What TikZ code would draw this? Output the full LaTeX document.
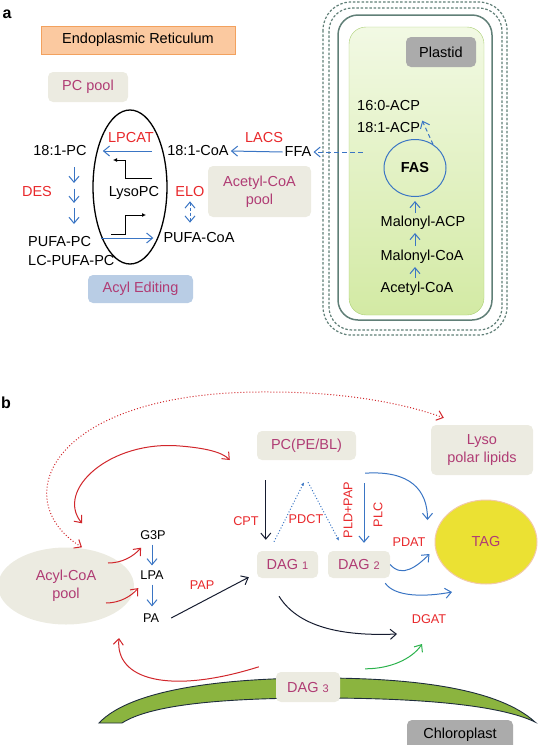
\documentclass[tikz,border=0pt]{standalone}
\usepackage{fontspec}
\setmainfont{Liberation Sans}
\usepackage{xcolor}
\definecolor{poolText}{HTML}{B03C74}
\definecolor{enzymeRed}{HTML}{E8282B}
\definecolor{flowBlue}{HTML}{3A75C4}
\definecolor{flowDark}{HTML}{161C30}
\definecolor{poolBg}{HTML}{ECEBE1}
\definecolor{erBg}{HTML}{FBC9A0}
\definecolor{erLine}{HTML}{F2A15E}
\definecolor{editBg}{HTML}{B9CDE5}
\definecolor{plastidLine}{HTML}{607F77}
\definecolor{stromaTop}{HTML}{F2F9E4}
\definecolor{stromaBot}{HTML}{D3EAA4}
\definecolor{stromaLine}{HTML}{A9CE72}
\definecolor{tagFill}{HTML}{EBE133}
\definecolor{tagLine}{HTML}{F2C9A8}
\definecolor{chloroFill}{HTML}{8BB43F}
\definecolor{chloroLine}{HTML}{1F2D3D}
\definecolor{labelGray}{HTML}{ABABAB}
\definecolor{curveRed}{HTML}{D1262B}
\definecolor{dagGreen}{HTML}{2BB24C}
\usepackage{tikz}
\usetikzlibrary{shapes,arrows.meta,positioning,calc}
\newcommand{\bigFont}{\fontsize{14.5}{18}\selectfont}
\newcommand{\smallFont}{\fontsize{12.7}{15}\selectfont}
\tikzset{%
  panelTag/.style={%
    font=\fontsize{16}{16}\selectfont\bfseries,
    inner sep=0
  },
  metaText/.style={%
    font=\bigFont,
    inner sep=2pt
  },
  smallMeta/.style={%
    font=\smallFont,
    inner sep=2pt
  },
  enzymeText/.style={%
    text=enzymeRed,
    font=\bigFont,
    inner sep=2pt
  },
  smallEnzyme/.style={%
    text=enzymeRed,
    font=\smallFont,
    inner sep=2pt
  },
  poolBox/.style={%
    rectangle,
    rounded corners=5pt,
    fill=poolBg,
    text=poolText,
    font=\bigFont,
    align=center,
    inner sep=0
  },
  grayBox/.style={%
    rectangle,
    rounded corners=5pt,
    fill=labelGray,
    font=\bigFont,
    inner sep=0
  },
  blueArrow/.style={%
    -{Straight Barb[length=6pt,width=10pt]},
    line width=1pt,
    color=flowBlue
  },
  darkArrow/.style={%
    -{Straight Barb[length=6pt,width=10pt]},
    line width=1pt,
    color=flowDark
  },
  redArrow/.style={%
    -{Straight Barb[length=6pt,width=10pt]},
    line width=1pt,
    color=curveRed
  },
  greenArrow/.style={%
    -{Straight Barb[length=6pt,width=10pt]},
    line width=1pt,
    color=dagGreen
  },
  dotArrow/.style={%
    -{Latex[length=3.5pt,width=3pt]},
    line width=1pt,
    dotted,
    color=flowBlue
  },
  stepArrow/.style={%
    -{Latex[length=4pt,width=4pt]},
    line width=0.9pt,
    color=black
  },
  membraneDash/.style={%
    draw=plastidLine,
    line width=1.2pt,
    dash pattern=on 2.5pt off 1.8pt
  }
}

\begin{document}
\begin{tikzpicture}[x=1pt,y=-1pt]
  \useasboundingbox (0,0) rectangle (538,745);

  % a: endoplasmic reticulum
  \node[panelTag] (tagA) at (7,14) {a};
  \node[rectangle, draw=erLine, fill=erBg, line width=1pt, font=\bigFont,
        minimum width=194pt, minimum height=28pt] (er) at (138,40) {Endoplasmic Reticulum};
  \node[poolBox, minimum width=80pt, minimum height=30pt] (pcPool) at (88,87) {PC pool};
  \node[draw, ellipse, line width=1.3pt, minimum width=74pt, minimum height=154pt] (editLoop) at (130,187) {};

  \node[metaText] (pc181) at (60,151) {18:1-PC};
  \node[enzymeText] (lpcat) at (131,138) {LPCAT};
  \node[metaText] (coa181) at (198,151) {18:1-CoA};
  \node[metaText] (lysoPC) at (134,193) {LysoPC};
  \node[metaText, anchor=west] (pufaPC) at (26,242) {PUFA-PC};
  \node[metaText, anchor=west] (lcPufaPC) at (26,261) {LC-PUFA-PC};
  \node[metaText] (pufaCoA) at (199,238) {PUFA-CoA};
  \node[enzymeText] (des) at (37,192) {DES};
  \node[enzymeText] (elo) at (190,192) {ELO};
  \node[poolBox, minimum width=103pt, minimum height=51pt] (acetylPool) at (259.5,191.5) {Acetyl-CoA\\pool};
  \node[poolBox, fill=editBg, minimum width=105pt, minimum height=28pt] (acylEdit) at (140.5,289) {Acyl Editing};
  \node[enzymeText] (lacs) at (264,138) {LACS};
  \node[metaText] (ffa) at (298,152) {FFA};

  % plastid
  \draw[membraneDash, rounded corners=28pt] (323,2) rectangle (507,335);
  \draw[membraneDash, rounded corners=23pt] (329,8) rectangle (502,330);
  \draw[plastidLine, line width=1.5pt, rounded corners=20pt] (338,15) rectangle (492,320);
  \draw[stromaLine, top color=stromaTop, bottom color=stromaBot, rounded corners=17pt] (349,27) rectangle (484,315);
  \node[grayBox, minimum width=70pt, minimum height=30pt] (plastid) at (441,52) {Plastid};
  \node[metaText, anchor=west] (acp160) at (355,106) {16:0-ACP};
  \node[metaText, anchor=west] (acp181) at (355,128) {18:1-ACP};
  \node[draw=flowBlue, line width=1pt, ellipse, minimum width=62pt, minimum height=57pt,
        font=\bigFont\bfseries] (fas) at (415,168) {FAS};
  \node[metaText] (malonylACP) at (423,223) {Malonyl-ACP};
  \node[metaText] (malonylCoA) at (422,257) {Malonyl-CoA};
  \node[metaText] (acetylCoA) at (417,289) {Acetyl-CoA};

  \draw[blueArrow, shorten <=2pt, shorten >=1pt] (acetylCoA.north -| fas) -- (malonylCoA.south -| fas);
  \draw[blueArrow, shorten <=2pt, shorten >=1pt] (malonylCoA.north -| fas) -- (malonylACP.south -| fas);
  \draw[blueArrow, shorten <=1pt, shorten >=4pt] (malonylACP.north -| fas) -- (fas.south);
  \draw[blueArrow, dash pattern=on 4pt off 3pt] (fas.53) -- (acp181.north east);
  \draw[blueArrow, dash pattern=on 5pt off 3pt] ($(ffa.east -| fas.west)+(-21,0)$) -- (ffa.east);
  \draw[blueArrow] (ffa.west) -- (coa181.east);

  % acyl editing cycle
  \draw[blueArrow, shorten <=13pt, shorten >=14pt] (coa181.west) -- (pc181.east);
  \draw[blueArrow, shorten <=8pt, shorten >=8pt] (pufaPC.east |- pufaCoA.west) -- (pufaCoA.west);
  \draw[stepArrow] ($(lysoPC)+(18,-15)$) -| ($(lysoPC)+(-9,-33)$) -- ++(-12,0);
  \draw[stepArrow] ($(lysoPC)+(-23,41)$) -| ($(lysoPC)+(-9,22)$) -- ++(21,0);
  \coordinate (desTop) at (74,167);
  \coordinate (desBot) at (74,224);
  \foreach \a/\b in {0/0.28, 0.38/0.63, 0.72/1}
    \draw[blueArrow] ($(desTop)!\a!(desBot)$) -- ($(desTop)!\b!(desBot)$);
  \draw[blueArrow, {Straight Barb[length=6pt,width=10pt]}-{Straight Barb[length=6pt,width=10pt]},
        dash pattern=on 3pt off 2pt, shorten <=2pt, shorten >=8pt] (elo.south) -- (elo.south |- pufaCoA.north);

  % b: lipid assembly
  \node[panelTag] (tagB) at (6,403) {b};
  \node[ellipse, fill=poolBg, text=poolText, font=\bigFont, align=center,
        minimum width=136pt, minimum height=77pt] (acylPool) at (66,586) {Acyl-CoA\\pool};
  \node[smallMeta] (g3p) at (153,535) {G3P};
  \node[smallMeta] (lpa) at (152,575) {LPA};
  \node[smallMeta] (pa) at (151,618) {PA};
  \node[poolBox, minimum width=99pt, minimum height=29pt] (pcBox) at (306.5,445.5) {PC(PE/BL)};
  \node[poolBox, minimum width=102pt, minimum height=50pt] (lysoBox) at (482,450) {Lyso\\polar lipids};
  \node[poolBox, minimum width=61pt, minimum height=27pt] (dag1) at (287.5,564.5) {DAG {\fontsize{11}{11}\selectfont 1}};
  \node[poolBox, minimum width=62pt, minimum height=27pt] (dag2) at (359,564.5) {DAG {\fontsize{11}{11}\selectfont 2}};
  \node[ellipse, fill=tagFill, draw=tagLine, line width=1pt, text=poolText, font=\bigFont,
        minimum width=102pt, minimum height=84pt] (tag) at (486,542) {TAG};

  \node[smallEnzyme] (cpt) at (246,521) {CPT};
  \node[smallEnzyme] (pdct) at (306,519) {PDCT};
  \node[smallEnzyme, rotate=90] (pldPap) at (348,510) {PLD+PAP};
  \node[smallEnzyme, rotate=90] (plc) at (378,515) {PLC};
  \node[smallEnzyme] (pdat) at (409,542) {PDAT};
  \node[smallEnzyme] (pap) at (202,585) {PAP};
  \node[smallEnzyme] (dgat) at (429,619) {DGAT};

  % chloroplast envelope
  \draw[chloroLine, fill=chloroFill, line width=0.9pt]
    (99,723) .. controls (130,690) and (220,678) .. (320,678)
    .. controls (420,678) and (500,690) .. (535,722)
    .. controls (500,705) and (420,698) .. (320,698)
    .. controls (220,698) and (150,705) .. (122,723) -- cycle;
  \node[poolBox, minimum width=64pt, minimum height=30pt] (dag3) at (308,687) {DAG {\fontsize{11}{11}\selectfont 3}};
  \node[grayBox, minimum width=106pt, minimum height=30pt] (chloroLabel) at (460,735) {Chloroplast};

  % Kennedy pathway
  \draw[blueArrow, shorten <=3pt, shorten >=3pt] (g3p.south -| lpa) -- (lpa.north);
  \draw[blueArrow, shorten <=3pt, shorten >=5pt] (lpa.south) -- (lpa.south |- pa.north);
  \draw[redArrow] ($(acylPool)+(42,-23)$) .. controls +(14,0) and +(-8,9) .. ($(g3p.south west)+(3,6)$);
  \draw[redArrow] ($(acylPool)+(40,17)$) .. controls +(14,0) and +(-7,8) .. ($(lpa.south west)+(0,6.5)$);
  \draw[darkArrow] ([xshift=10pt]pa.east) -- ($(dag1.south west)+(-8,-1)$);

  % exchange with PC and acyl-CoA
  \draw[redArrow, {Straight Barb[length=6pt,width=10pt]}-{Straight Barb[length=6pt,width=10pt]}]
    ($(acylPool.north)+(16,-24)$) .. controls (55,490) and (110,440) .. (180,446)
    .. controls (205,448) and (222,452) .. ($(pcBox.west)+(-27,14.5)$);
  \draw[redArrow, dotted, {Straight Barb[length=6pt,width=10pt]}-{Straight Barb[length=6pt,width=10pt]}]
    ($(acylPool.north)+(16,0)$) .. controls (5,500) and (50,390) .. (270,392)
    .. controls (340,392) and (400,402) .. ($(lysoBox.north west)+(13,-7)$);
  \draw[darkArrow] ($(pcBox.south -| dag1.west)+(9,20)$) -- ($(dag1.north west)+(9,-11)$);
  \draw[dotArrow] ($(dag1.north)+(-13.5,-9)$) -- ($(pcBox.south)+(-2.5,22)$);
  \draw[dotArrow] ($(pcBox.south)+(1.5,22)$) -- ($(dag2.north)+(-20,-10)$);
  \draw[blueArrow] ($(pcBox.south)+(57.5,23)$) -- ($(dag2.north)+(5,-8)$);

  % TAG assembly
  \draw[blueArrow] ($(pcBox.south east)+(9,13)$) .. controls +(45,-3) and +(0,-30) .. ($(tag.west)+(-7,-22)$);
  \draw[blueArrow] (dag2.east) .. controls +(12,14) and +(-12,12) .. ($(tag.west)+(-5,12)$);
  \draw[blueArrow] ($(dag2.south east)+(-5,5)$) .. controls +(10,14) and +(-27,5) .. ($(dgat)+(23,-27)$);
  \draw[darkArrow] ($(dag1.south)+(-8.5,18)$) .. controls +(21,34) and +(-47,2) .. ($(dgat)+(-32,15)$);
  \draw[greenArrow] ($(dag3.north east)+(25,-3)$) .. controls +(25,0) and +(-10,15) .. ($(dgat)+(-7,25)$);
  \draw[redArrow] ($(dag3.north west)+(-17,-5)$) .. controls +(-89,28) and +(-4,42) .. ($(acylPool)+(53,52)$);
\end{tikzpicture}
\end{document}
